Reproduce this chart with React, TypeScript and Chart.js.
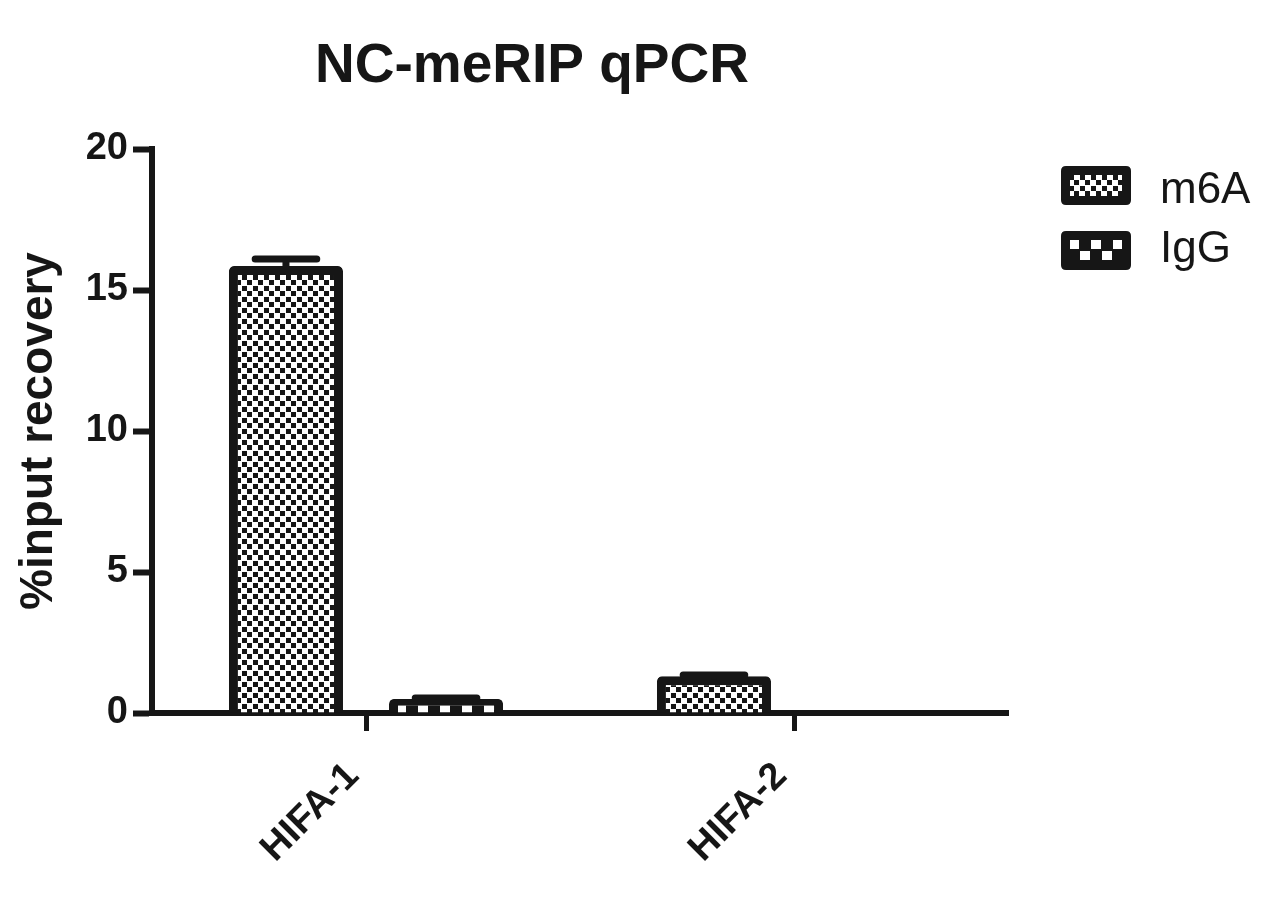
import React, { useEffect, useRef } from 'react';
import { Chart, registerables } from 'chart.js';

Chart.register(...registerables);

// values
const categories = ['HIFA-1', 'HIFA-2'];
const seriesNames = ['m6A', 'IgG'];
const m6aValues = [15.85, 1.3];
const m6aErrors = [0.25, 0.05];
const iggValues = [0.5, 0];
const iggErrors = [0.03, 0];
const yTicks = [0, 5, 10, 15, 20];

const INK = '#161616';
const FONT = "'Liberation Sans', Arial, Helvetica, sans-serif";

// fine checker for m6A, coarse checker for IgG
function makePattern(kind: 'fine' | 'coarse') {
  const c = document.createElement('canvas');
  const ctx = c.getContext('2d')!;
  if (kind === 'fine') {
    c.width = 11;
    c.height = 11;
    ctx.fillStyle = '#ffffff';
    ctx.fillRect(0, 0, 11, 11);
    ctx.fillStyle = INK;
    ctx.fillRect(0, 0, 5, 5);
    ctx.fillRect(5, 5, 5, 5);
  } else {
    c.width = 22;
    c.height = 22;
    ctx.fillStyle = INK;
    ctx.fillRect(0, 0, 22, 22);
    ctx.fillStyle = '#ffffff';
    ctx.fillRect(0, 0, 10, 9);
    ctx.fillRect(11, 11, 10, 9);
  }
  return ctx.createPattern(c, 'repeat')!;
}

const errorBarPlugin = {
  id: 'errorBars',
  afterDatasetsDraw(chart: any) {
    const { ctx } = chart;
    const yScale = chart.scales.y;
    chart.data.datasets.forEach((ds: any, i: number) => {
      const meta = chart.getDatasetMeta(i);
      meta.data.forEach((bar: any, j: number) => {
        const v = ds.data[j];
        const e = ds.errors ? ds.errors[j] : 0;
        if (!v || !e) return;
        const top = yScale.getPixelForValue(v + e);
        const half = bar.width * 0.27;
        ctx.save();
        ctx.strokeStyle = INK;
        ctx.lineWidth = 7;
        ctx.lineCap = 'round';
        ctx.beginPath();
        ctx.moveTo(bar.x, bar.y);
        ctx.lineTo(bar.x, top);
        ctx.moveTo(bar.x - half, top);
        ctx.lineTo(bar.x + half, top);
        ctx.stroke();
        ctx.restore();
      });
    });
  }
};

function roundRect(ctx: CanvasRenderingContext2D, x: number, y: number, w: number, h: number, r: number) {
  ctx.beginPath();
  ctx.moveTo(x + r, y);
  ctx.lineTo(x + w - r, y);
  ctx.quadraticCurveTo(x + w, y, x + w, y + r);
  ctx.lineTo(x + w, y + h - r);
  ctx.quadraticCurveTo(x + w, y + h, x + w - r, y + h);
  ctx.lineTo(x + r, y + h);
  ctx.quadraticCurveTo(x, y + h, x, y + h - r);
  ctx.lineTo(x, y + r);
  ctx.quadraticCurveTo(x, y, x + r, y);
  ctx.closePath();
}

const legendAndTitlePlugin = {
  id: 'legendAndTitle',
  afterDraw(chart: any) {
    const { ctx } = chart;
    ctx.save();
    // title
    ctx.fillStyle = INK;
    ctx.font = `bold 55px ${FONT}`;
    ctx.textAlign = 'center';
    ctx.textBaseline = 'alphabetic';
    ctx.fillText('NC-meRIP qPCR', 532, 82);

    // legend
    chart.data.datasets.forEach((ds: any, i: number) => {
      const bx = 1061;
      const by = 166 + i * 65;
      roundRect(ctx, bx, by, 70, 39, 5);
      ctx.fillStyle = INK;
      ctx.fill();
      ctx.save();
      ctx.translate(bx + 8, by + 9);
      ctx.fillStyle = ds.backgroundColor;
      ctx.fillRect(1, 0, 52, 21);
      ctx.restore();
      ctx.fillStyle = INK;
      ctx.font = `44px ${FONT}`;
      ctx.textAlign = 'left';
      ctx.fillText(ds.label, 1160, 203 + i * 59);
    });
    ctx.restore();
  }
};

const App = () => {
  const canvasRef = useRef<HTMLCanvasElement | null>(null);
  const chartRef = useRef<Chart | null>(null);

  useEffect(() => {
    const ctx = canvasRef.current!.getContext('2d');
    if (!ctx) return;
    const fine = makePattern('fine');
    const coarse = makePattern('coarse');

    chartRef.current = new Chart(ctx, {
      type: 'bar',
      data: {
        labels: categories,
        datasets: [
          {
            label: seriesNames[0],
            data: m6aValues,
            errors: m6aErrors,
            backgroundColor: fine,
            borderColor: INK,
            borderWidth: 9,
            borderRadius: 5,
            borderSkipped: 'start',
            categoryPercentage: 0.748,
            barPercentage: 0.7125
          } as any,
          {
            label: seriesNames[1],
            data: iggValues,
            errors: iggErrors,
            backgroundColor: coarse,
            borderColor: INK,
            borderWidth: 9,
            borderRadius: 5,
            borderSkipped: 'start',
            categoryPercentage: 0.748,
            barPercentage: 0.7125
          } as any
        ]
      },
      options: {
        responsive: false,
        animation: false,
        layout: {
          padding: { top: 149, right: 271, left: 0, bottom: 0 }
        },
        plugins: {
          legend: { display: false },
          title: { display: false },
          tooltip: { enabled: false }
        },
        scales: {
          x: {
            offset: true,
            afterFit: (scale: any) => {
              scale.height = 190;
            },
            grid: {
              offset: false,
              drawOnChartArea: false,
              drawTicks: true,
              tickLength: 18,
              tickWidth: 5,
              tickColor: INK
            },
            border: { display: true, width: 6, color: INK },
            ticks: {
              color: INK,
              font: { family: FONT, size: 38, weight: 'bold' },
              minRotation: 45,
              maxRotation: 45,
              padding: 23,
              labelOffset: -13
            }
          },
          y: {
            min: 0,
            max: 20,
            afterFit: (scale: any) => {
              scale.width = 152;
            },
            afterBuildTicks: (scale: any) => {
              scale.ticks = yTicks.map((v) => ({ value: v }));
            },
            grid: {
              drawOnChartArea: false,
              drawTicks: true,
              tickLength: 19,
              tickWidth: 6,
              tickColor: INK
            },
            border: { display: true, width: 6, color: INK },
            ticks: {
              color: INK,
              font: { family: FONT, size: 38, weight: 'bold' },
              padding: 5
            },
            title: {
              display: true,
              text: '%input recovery',
              color: INK,
              font: { family: FONT, size: 46, weight: 'bold' },
              padding: { top: 12, bottom: 10 }
            }
          }
        }
      },
      plugins: [errorBarPlugin, legendAndTitlePlugin]
    });

    return () => {
      if (chartRef.current) chartRef.current.destroy();
    };
  }, []);

  return (
    <div style={{ position: 'fixed', left: 0, top: 0, width: '1279px', height: '903px', background: '#ffffff' }}>
      <canvas ref={canvasRef} width='1279' height='903'></canvas>
    </div>
  );
};

export default App;
